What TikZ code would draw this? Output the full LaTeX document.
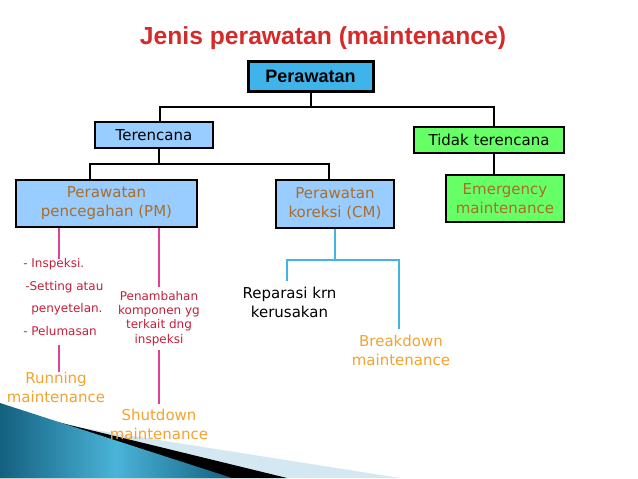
\documentclass[tikz,border=0pt]{standalone}
\usepackage{fontspec}
\setmainfont{DejaVu Sans}
\newfontfamily\headfont{Liberation Sans}
\definecolor{titlered}{HTML}{D42A2A}
\definecolor{topblue}{HTML}{3FB4EA}
\definecolor{lblue}{HTML}{99CCFF}
\definecolor{lgreen}{HTML}{66FF66}
\definecolor{txtbrown}{HTML}{A86E2A}
\definecolor{listred}{HTML}{C41E3A}
\definecolor{pinkline}{HTML}{E0409C}
\definecolor{cmline}{HTML}{44B4E4}
\definecolor{orangetxt}{HTML}{F2A22E}
\definecolor{tealdark}{HTML}{14607F}
\definecolor{teallight}{HTML}{4AB4D8}
\definecolor{stripeblue}{HTML}{D3E8F1}
\begin{document}
\begin{tikzpicture}[x=0.75pt,y=-0.75pt,
  box/.style={draw=black,line width=1.5pt,inner sep=0pt,align=center,
    font=\fontsize{11.25}{14.25}\selectfont},
  conn/.style={draw=black,line width=1.5pt},
  pinkconn/.style={draw=pinkline,line width=2pt},
  blueconn/.style={draw=cmline,line width=1.5pt},
  smalltext/.style={text=listred,align=center,inner sep=0pt,
    font=\fontsize{9}{10.7}\selectfont},
  bigtext/.style={text=orangetxt,align=center,inner sep=0pt,
    font=\fontsize{11.25}{14.25}\selectfont}]
\useasboundingbox (0,0) rectangle (638,478);
% decorative wedge
\fill[stripeblue] (0,415) -- (400,478) -- (0,478) -- cycle;
\fill[black] (0,408) -- (287,478) -- (0,478) -- cycle;
\shade[left color=tealdark,right color=tealdark,middle color=teallight]
  (0,403) -- (232,478) -- (0,478) -- cycle;
% title
\node[text=titlered,font=\headfont\bfseries\fontsize{18.5}{22}\selectfont] (title) at (323,38) {Jenis perawatan (maintenance)};
% boxes
\node[box,fill=topblue,line width=2.25pt,minimum width=93.75pt,minimum height=21.75pt,
  font=\headfont\bfseries\fontsize{13.5}{16}\selectfont] (per) at (310.5,76.5) {Perawatan};
\node[box,fill=lblue,minimum width=88.5pt,minimum height=19.5pt] (ter) at (154,135) {Terencana};
\node[box,fill=lgreen,minimum width=112.5pt,minimum height=19.5pt] (tid) at (489,140) {Tidak terencana};
\node[box,fill=lblue,text=txtbrown,minimum width=135.75pt,minimum height=35.25pt] (pm) at (106.5,203.5) {Perawatan\\pencegahan (PM)};
\node[box,fill=lblue,text=txtbrown,minimum width=88.5pt,minimum height=36pt] (cm) at (335,204) {Perawatan\\koreksi (CM)};
\node[box,fill=lgreen,text=txtbrown,minimum width=88.5pt,minimum height=35.25pt] (em) at (505,198.5) {Emergency\\maintenance};
% black connectors
\coordinate (b1L) at (160,107);
\coordinate (b1R) at (494,107);
\coordinate (b2M) at (159,164);
\coordinate (b2L) at (90,164);
\coordinate (b2R) at (329,164);
\draw[conn] (per.south) -- (per.south |- b1L);
\draw[conn] (b1L |- ter.north) -- (b1L) -- (b1R) -- (b1R |- tid.north);
\draw[conn] (b2M |- ter.south) -- (b2M);
\draw[conn] (b2L |- pm.north) -- (b2L) -- (b2R) -- (b2R |- cm.north);
\draw[conn] (b1R |- tid.south) -- (b1R |- em.north);
% PM branch texts
\node[smalltext,align=left,anchor=west,font=\fontsize{9}{17}\selectfont] (list) at (23,297)
  {- Inspeksi.\\\hspace*{1.5pt}-Setting atau\\\hspace*{6pt}penyetelan.\\- Pelumasan};
\node[smalltext] (pen) at (159,318.5) {Penambahan\\komponen yg\\terkait dng\\inspeksi};
\node[bigtext] (run) at (56,387.5) {Running\\maintenance};
\node[bigtext] (shut) at (159,424) {Shutdown\\maintenance};
% pink connectors
\coordinate (pa) at (59,259);
\coordinate (pb) at (59,345);
\coordinate (pc) at (59,372);
\coordinate (pd) at (159,287);
\coordinate (pe) at (159,350);
\coordinate (pf) at (159,404);
\draw[pinkconn] (pa |- pm.south) -- (pa);
\draw[pinkconn] (pb) -- (pc);
\draw[pinkconn] (pd |- pm.south) -- (pd);
\draw[pinkconn] (pe) -- (pf);
% CM branch
\node[inner sep=0pt,align=center,font=\fontsize{11.25}{14.25}\selectfont] (rep) at (289.5,302.5) {Reparasi krn\\kerusakan};
\node[bigtext] (brk) at (401,350.5) {Breakdown\\maintenance};
\coordinate (c1) at (335,260);
\coordinate (c2L) at (287,260);
\coordinate (c2R) at (399,260);
\coordinate (c3L) at (287,281);
\coordinate (c3R) at (399,329);
\draw[blueconn] (c1 |- cm.south) -- (c1);
\draw[blueconn] (c3L) -- (c2L) -- (c2R) -- (c3R);
\end{tikzpicture}
\end{document}
